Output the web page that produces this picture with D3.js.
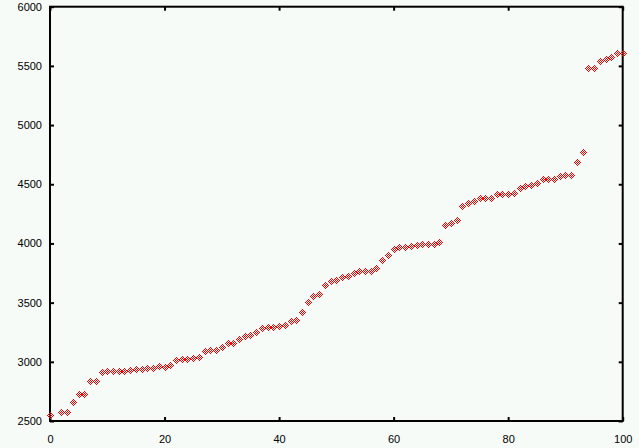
<!DOCTYPE html>
<html>
<head>
<meta charset="utf-8">
<script src="https://cdn.jsdelivr.net/npm/d3@7"></script>
<style>
html,body{margin:0;padding:0;background:#f6fbf7;}
svg{display:block;}
text{font-family:"Liberation Sans",Arial,sans-serif;font-size:11px;fill:#000;}
</style>
</head>
<body>
<svg id="chart" width="639" height="448"></svg>
<script>
const xValues = [0,2,3,4,5,6,7,8,9,10,11,12,13,14,15,16,17,18,19,20,21,22,23,24,25,26,27,28,29,30,31,32,33,34,35,36,37,38,39,40,41,42,43,44,45,46,47,48,49,50,51,52,53,54,55,56,57,58,59,60,61,62,63,64,65,66,67,68,69,70,71,72,73,74,75,76,77,78,79,80,81,82,83,84,85,86,87,88,89,90,91,92,93,94,95,96,97,98,99,100];
const yValues = [2548,2576,2576,2661,2728,2728,2835,2835,2911,2920,2920,2920,2920,2928,2937,2937,2945,2945,2962,2954,2973,3015,3020,3020,3031,3038,3090,3097,3097,3121,3157,3157,3190,3216,3224,3249,3283,3292,3292,3300,3308,3342,3351,3418,3503,3553,3570,3646,3681,3687,3714,3722,3748,3765,3765,3765,3790,3858,3900,3951,3967,3967,3976,3984,3993,3993,3993,4010,4153,4170,4196,4314,4339,4356,4381,4381,4381,4415,4415,4415,4424,4466,4483,4491,4508,4542,4542,4542,4567,4576,4576,4686,4770,5480,5480,5539,5556,5573,5606,5606];
const xTicks = [0,20,40,60,80,100];
const yTicks = [2500,3000,3500,4000,4500,5000,5500,6000];

(function(){
const svg = d3.select("#chart");
const pL = 50, pR = 622.7, pT = 6.7, pB = 421;
const x = d3.scaleLinear().domain([0,100]).range([pL,pR]);
const y = d3.scaleLinear().domain([2500,6000]).range([pB,pT]);

svg.append("rect").attr("width",639).attr("height",448).attr("fill","#f6fbf7");

const gx = svg.append("g").attr("transform",`translate(0,${pB})`)
  .call(d3.axisBottom(x).tickValues(xTicks).tickFormat(d3.format("d")).tickSizeInner(-4).tickSizeOuter(0).tickPadding(14));
const gxt = svg.append("g").attr("transform",`translate(0,${pT})`)
  .call(d3.axisTop(x).tickValues(xTicks).tickFormat("").tickSizeInner(-4).tickSizeOuter(0));
const gy = svg.append("g").attr("transform",`translate(${pL},0)`)
  .call(d3.axisLeft(y).tickValues(yTicks).tickFormat(d3.format("d")).tickSizeInner(-4).tickSizeOuter(0).tickPadding(8));
const gyr = svg.append("g").attr("transform",`translate(${pR},0)`)
  .call(d3.axisRight(y).tickValues(yTicks).tickFormat("").tickSizeInner(-4).tickSizeOuter(0));
[gx,gxt,gy,gyr].forEach(g=>{
  g.select(".domain").remove();
  g.selectAll(".tick line").attr("stroke","#000").attr("stroke-width",2);
  g.selectAll("text").attr("font-family","Liberation Sans, Arial, sans-serif").attr("font-size",11).attr("fill","#000");
});

svg.append("rect").attr("x",pL).attr("y",pT).attr("width",pR-pL).attr("height",pB-pT)
  .attr("fill","none").attr("stroke","#000").attr("stroke-width",2);

// pixel-style diamond marker (checkered, like gnuplot gd output)
const offs = [];
for (let dx=-3; dx<=3; dx++) for (let dy=-3; dy<=3; dy++) {
  const m = Math.abs(dx)+Math.abs(dy);
  if (m===1 || m===3) offs.push([dx,dy]);
}
const pts = xValues.map((v,i)=>({x:v,y:yValues[i]}));
const g = svg.append("g").attr("shape-rendering","crispEdges");
const mk = g.selectAll("g.pt").data(pts).join("g").attr("class","pt")
  .attr("transform",d=>`translate(${Math.round(x(d.x))},${Math.round(y(d.y))})`);
mk.selectAll("rect").data(offs).join("rect")
  .attr("x",o=>o[0]-0.5).attr("y",o=>o[1]-0.5).attr("width",1).attr("height",1).attr("fill","#ff0000");
})();
</script>
</body>
</html>
